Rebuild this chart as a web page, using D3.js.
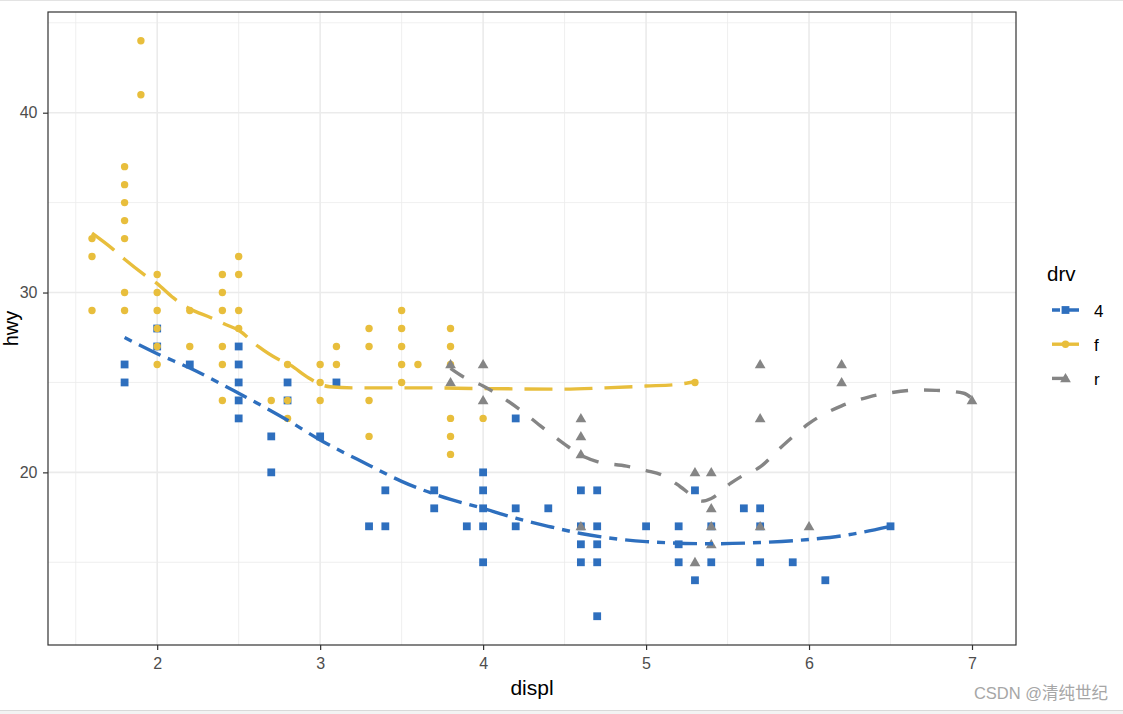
<!DOCTYPE html>
<html><head><meta charset="utf-8">
<script src="https://cdn.jsdelivr.net/npm/d3@7/dist/d3.min.js"></script>
<style>body{margin:0;background:#fff;} svg{display:block;font-family:"Liberation Sans",Arial,sans-serif;}</style>
</head><body>
<script>
// ---- data (displ, hwy) by drv ----
const drvLevels = ["4", "f", "r"];
const points4 = [[1.8,26],[1.8,25],[2.0,28],[2.0,27],[2.2,26],[2.5,27],[2.5,26],[2.5,25],[2.5,24],[2.5,23],[2.7,22],[2.7,20],[2.8,25],[2.8,24],[3.0,22],[3.1,25],[3.3,17],[3.4,19],[3.4,17],[3.7,19],[3.7,18],[3.9,17],[4.0,20],[4.0,19],[4.0,18],[4.0,17],[4.0,15],[4.2,23],[4.2,18],[4.2,17],[4.4,18],[4.6,19],[4.6,17],[4.6,16],[4.6,15],[4.7,19],[4.7,17],[4.7,16],[4.7,15],[4.7,12],[5.0,17],[5.2,17],[5.2,16],[5.2,15],[5.3,19],[5.3,14],[5.4,17],[5.4,15],[5.6,18],[5.7,18],[5.7,17],[5.7,15],[5.9,15],[6.1,14],[6.5,17]];
const pointsF = [[1.6,33],[1.6,32],[1.6,29],[1.8,37],[1.8,36],[1.8,35],[1.8,34],[1.8,33],[1.8,30],[1.8,29],[1.9,44],[1.9,41],[2.0,31],[2.0,30],[2.0,29],[2.0,28],[2.0,27],[2.0,26],[2.2,29],[2.2,27],[2.4,31],[2.4,30],[2.4,29],[2.4,27],[2.4,26],[2.4,24],[2.5,32],[2.5,31],[2.5,29],[2.5,28],[2.7,24],[2.8,26],[2.8,24],[2.8,23],[3.0,26],[3.0,25],[3.0,24],[3.1,27],[3.1,26],[3.3,28],[3.3,27],[3.3,24],[3.3,22],[3.5,29],[3.5,28],[3.5,27],[3.5,26],[3.5,25],[3.6,26],[3.8,28],[3.8,27],[3.8,26],[3.8,23],[3.8,22],[3.8,21],[4.0,23],[5.3,25]];
const pointsR = [[3.8,26],[3.8,25],[4.0,26],[4.0,24],[4.6,23],[4.6,22],[4.6,21],[4.6,17],[5.3,20],[5.3,15],[5.4,20],[5.4,18],[5.4,17],[5.4,16],[5.7,26],[5.7,23],[5.7,17],[6.0,17],[6.2,26],[6.2,25],[7.0,24]];
// ---- smoothed curves ----
const smooth4 = [[1.8,27.5],[2.0,26.6],[2.2,25.8],[2.5,24.4],[2.8,22.9],[3.0,21.8],[3.3,20.4],[3.5,19.5],[3.8,18.5],[4.0,18.0],[4.2,17.45],[4.4,17.0],[4.6,16.6],[5.0,16.15],[5.4,16.03],[5.7,16.1],[6.0,16.27],[6.2,16.47],[6.5,17.0]];
const smoothF = [[1.6,33.3],[1.73,32.4],[1.8,31.85],[1.92,31.0],[2.0,30.5],[2.1,29.7],[2.2,29.1],[2.33,28.6],[2.41,28.26],[2.5,27.9],[2.62,27.0],[2.74,26.3],[2.8,26.06],[2.93,25.25],[3.0,24.9],[3.06,24.76],[3.2,24.7],[3.6,24.7],[4.0,24.66],[4.5,24.63],[4.75,24.7],[5.0,24.8],[5.2,24.9],[5.3,25.04]];
const smoothR = [[3.8,25.78],[3.88,25.3],[4.0,24.8],[4.23,23.46],[4.35,22.6],[4.51,21.5],[4.6,20.96],[4.7,20.6],[4.88,20.35],[5.0,20.1],[5.11,19.8],[5.21,19.2],[5.3,18.6],[5.34,18.4],[5.4,18.55],[5.52,19.4],[5.58,19.75],[5.7,20.3],[5.82,21.33],[5.89,21.9],[6.0,22.72],[6.2,23.7],[6.37,24.2],[6.5,24.43],[6.68,24.58],[6.78,24.56],[6.95,24.4],[7.0,24.1]];
const xTicks = [2,3,4,5,6,7];
const xMinor = [1.5,2.5,3.5,4.5,5.5,6.5];
const yTicks = [20,30,40];
const yMinor = [15,25,35,45];

const colors = {"4":"#2E6FBE","f":"#E8BE3C","r":"#858585"};
const dashes = {"4":"8,8,24,8","f":"28,12","r":"16,16"};

const W=1123,H=714;
const P={l:48,r:1016,t:12,b:645};
const svg=d3.select("body").append("svg").attr("width",W).attr("height",H);

const x=d3.scaleLinear().domain([1.33,7.27]).range([P.l,P.r]);
const y=d3.scaleLinear().domain([10.4,45.6]).range([P.b,P.t]);

// top/bottom page lines
svg.append("rect").attr("x",0).attr("y",710).attr("width",W).attr("height",4).attr("fill","#f3f3f3");
svg.append("line").attr("x1",0).attr("x2",W).attr("y1",710.5).attr("y2",710.5).attr("stroke","#d9d9d9");
svg.append("line").attr("x1",0).attr("x2",W).attr("y1",0.5).attr("y2",0.5).attr("stroke","#e3e3e3");

const g=svg.append("g");
// minor grid
g.selectAll(".xm").data(xMinor).join("line").attr("x1",d=>x(d)).attr("x2",d=>x(d)).attr("y1",P.t).attr("y2",P.b).attr("stroke","#EBEBEB").attr("stroke-width",0.8);
g.selectAll(".ym").data(yMinor).join("line").attr("y1",d=>y(d)).attr("y2",d=>y(d)).attr("x1",P.l).attr("x2",P.r).attr("stroke","#EBEBEB").attr("stroke-width",0.8);
// major grid
g.selectAll(".xM").data(xTicks).join("line").attr("x1",d=>x(d)).attr("x2",d=>x(d)).attr("y1",P.t).attr("y2",P.b).attr("stroke","#EBEBEB").attr("stroke-width",1.6);
g.selectAll(".yM").data(yTicks).join("line").attr("y1",d=>y(d)).attr("y2",d=>y(d)).attr("x1",P.l).attr("x2",P.r).attr("stroke","#EBEBEB").attr("stroke-width",1.6);

// shapes
const sq=7.8, tri=d3.symbol().type(d3.symbolTriangle).size(50);
function drawShape(sel, drv, px, py){
  if(drv==="4") sel.append("rect").attr("x",px-sq/2).attr("y",py-sq/2).attr("width",sq).attr("height",sq).attr("fill",colors["4"]);
  else if(drv==="f") sel.append("circle").attr("cx",px).attr("cy",py).attr("r",3.7).attr("fill",colors["f"]);
  else sel.append("path").attr("d",tri()).attr("transform",`translate(${px},${py+0.8})`).attr("fill",colors["r"]);
}
const pg=g.append("g");
points4.forEach(d=>drawShape(pg,"4",x(d[0]),y(d[1])));
pointsF.forEach(d=>drawShape(pg,"f",x(d[0]),y(d[1])));
pointsR.forEach(d=>drawShape(pg,"r",x(d[0]),y(d[1])));

// smooth lines
const line=d3.line().x(d=>x(d[0])).y(d=>y(d[1])).curve(d3.curveMonotoneX);
[["4",smooth4],["f",smoothF],["r",smoothR]].forEach(([k,arr])=>{
  g.append("path").attr("d",line(arr)).attr("fill","none").attr("stroke",colors[k]).attr("stroke-width",3.4).attr("stroke-dasharray",dashes[k]).attr("stroke-linecap","butt");
});

// panel border
svg.append("rect").attr("x",P.l).attr("y",P.t).attr("width",P.r-P.l).attr("height",P.b-P.t).attr("fill","none").attr("stroke","#333333").attr("stroke-width",1.2);

// axes
const xAxis=svg.append("g").attr("transform",`translate(0,${P.b})`).call(d3.axisBottom(x).tickValues(xTicks).tickSize(5).tickPadding(7.5).tickFormat(d3.format("d")));
const yAxis=svg.append("g").attr("transform",`translate(${P.l},0)`).call(d3.axisLeft(y).tickValues(yTicks).tickSize(5).tickPadding(5.5).tickFormat(d3.format("d")));
[xAxis,yAxis].forEach(a=>{
  a.select(".domain").remove();
  a.selectAll(".tick line").attr("stroke","#333333").attr("stroke-width",1.2);
  a.selectAll(".tick text").attr("fill","#4D4D4D").style("font-size","16px").style("font-family","Liberation Sans, Arial, sans-serif");
});

// axis titles
svg.append("text").attr("x",(P.l+P.r)/2).attr("y",695).attr("text-anchor","middle").style("font-size","21px").attr("fill","#000").text("displ");
svg.append("text").attr("transform",`translate(18,${(P.t+P.b)/2}) rotate(-90)`).attr("text-anchor","middle").style("font-size","20px").attr("fill","#000").text("hwy");

// legend
const lg=svg.append("g");
lg.append("text").attr("x",1047).attr("y",281).style("font-size","20.5px").attr("fill","#000").text("drv");
drvLevels.forEach((k,i)=>{
  const cy=310+i*34.2;
  lg.append("line").attr("x1",1052).attr("x2",1079).attr("y1",cy).attr("y2",cy).attr("stroke",colors[k]).attr("stroke-width",3.4).attr("stroke-dasharray",dashes[k]);
  drawShape(lg,k,1065.5,cy);
  lg.append("text").attr("x",1094).attr("y",cy+7).style("font-size","17px").attr("fill","#000").text(k);
});

// watermark
svg.append("text").attr("x",1108).attr("y",699).attr("text-anchor","end").style("font-size","16.5px").attr("fill","#a6a6a6").style("font-family","Liberation Sans, 'Noto Sans CJK SC', sans-serif").text("CSDN @清纯世纪");
</script>
</body></html>
